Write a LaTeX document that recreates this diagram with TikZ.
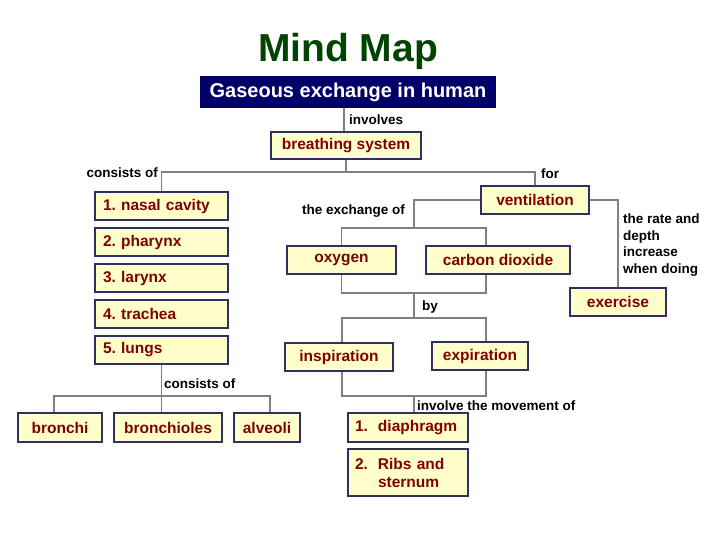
\documentclass[tikz,border=0pt]{standalone}
\usepackage{fontspec}
\setmainfont{Liberation Sans}
\frenchspacing
\definecolor{titlegreen}{RGB}{0,68,0}
\definecolor{navybox}{RGB}{0,0,104}
\definecolor{boxborder}{RGB}{48,48,96}
\definecolor{boxfill}{RGB}{255,255,204}
\definecolor{boxtext}{RGB}{128,0,0}
\definecolor{linegray}{RGB}{128,128,128}
\begin{document}
\frenchspacing
\begin{tikzpicture}[x=1pt,y=-1pt,
  conn/.style={draw=linegray,line width=1.8pt},
  cbox/.style={draw=boxborder,line width=1.8pt,fill=boxfill,text=boxtext,
    font=\bfseries\fontsize{15.5}{18}\selectfont,inner sep=0pt,
    minimum height=28pt,align=center},
  lbox/.style={cbox,inner xsep=8pt,align=left},
  lbl/.style={font=\bfseries\fontsize{13.5}{16.7}\selectfont,text=black,inner sep=0pt}
]
\useasboundingbox[fill=white] (0,0) rectangle (720,540);

% title
\node[font=\bfseries\fontsize{39}{44}\selectfont,text=titlegreen,anchor=base] (title) at (348,62) {Mind Map};

% top box
\node[fill=navybox,text=white,font=\bfseries\fontsize{20}{24}\selectfont,
  minimum width=296pt,minimum height=32pt,inner sep=0pt] (top) at (348,92) {Gaseous exchange in human};

\node[cbox,minimum width=150pt,minimum height=27pt] (bs) at (346,145.5) {breathing system};

% left list
\node[lbox,text width=117pt] (nasal) at (161.5,206) {1. nasal cavity};
\node[lbox,text width=117pt] (pharynx) at (161.5,242) {2. pharynx};
\node[lbox,text width=117pt] (larynx) at (161.5,278) {3. larynx};
\node[lbox,text width=117pt] (trachea) at (161.5,314) {4. trachea};
\node[lbox,text width=117pt] (lungs) at (161.5,350) {5. lungs};

\node[cbox,minimum width=84pt,minimum height=29pt] (bronchi) at (60,427.5) {bronchi};
\node[cbox,minimum width=108pt,minimum height=29pt] (bronchioles) at (168,427.5) {bronchioles};
\node[cbox,minimum width=66pt,minimum height=29pt] (alveoli) at (267,427.5) {alveoli};

% right side
\node[cbox,minimum width=108pt] (vent) at (535,200) {ventilation};
\node[cbox,minimum width=109pt] (oxygen) at (341.5,260) {oxygen};
\node[cbox,minimum width=144pt] (co2) at (498,260) {carbon dioxide};
\node[cbox,minimum width=96pt] (exercise) at (618,302) {exercise};
\node[cbox,minimum width=108pt] (insp) at (339,357) {inspiration};
\node[cbox,minimum width=96pt] (exp) at (480,356) {expiration};
\node[lbox,inner xsep=7pt,text width=106pt,minimum height=29pt] (dia) at (408,427.5) {\makebox[23pt][l]{1.}diaphragm};
\node[lbox,inner xsep=7pt,text width=106pt,minimum height=47pt] (ribs) at (408,472.5) {\makebox[23pt][l]{2.}Ribs and\\\hspace*{23pt}sternum};

% junctions
\coordinate (j1) at (346,172);
\coordinate (j2) at (161.5,396);
\coordinate (j3) at (414,228);
\coordinate (j4) at (414,293);
\coordinate (j5) at (414,318);
\coordinate (j6) at (414,396);

% connectors
\draw[conn] ([xshift=-2]bs.north) -- ([xshift=-2]bs.north |- top.south);
\draw[conn] (bs.south) -- (j1);
\draw[conn] (nasal.north) |- (j1);
\draw[conn] (vent.north) |- (j1);
\draw[conn] (lungs.south) -- (lungs.south |- bronchioles.north);
\draw[conn] ([xshift=-6]bronchi.north) |- (j2) -| ([xshift=3]alveoli.north);
\draw[conn] (vent.west) -| (j3);
\draw[conn] (oxygen.north) |- (j3) -| ([xshift=-12]co2.north);
\draw[conn] (vent.east) -| (exercise.north);
\draw[conn] (oxygen.south) |- (j4) -| ([xshift=-12]co2.south);
\draw[conn] (j4) -- (j5);
\draw[conn] ([xshift=3]insp.north) |- (j5) -| ([xshift=6]exp.north);
\draw[conn] ([xshift=3]insp.south) |- (j6) -| ([xshift=6]exp.south);
\draw[conn] (j6) -- (j6 |- dia.north);

% labels
\node[lbl,anchor=west] (l1) at (349,120) {involves};
\node[lbl,anchor=east] (l2) at (158,173) {consists of};
\node[lbl,anchor=west] (l3) at (541,174) {for};
\node[lbl,anchor=west] (l4) at (302,211) {the exchange of};
\node[lbl,anchor=west,align=left] (l5) at (623,245) {the rate and\\depth\\increase\\when doing};
\node[lbl,anchor=west] (l6) at (422,307) {by};
\node[lbl,anchor=west] (l7) at (164,384) {consists of};
\node[lbl,anchor=west] (l8) at (417,406) {involve the movement of};
\end{tikzpicture}
\end{document}
